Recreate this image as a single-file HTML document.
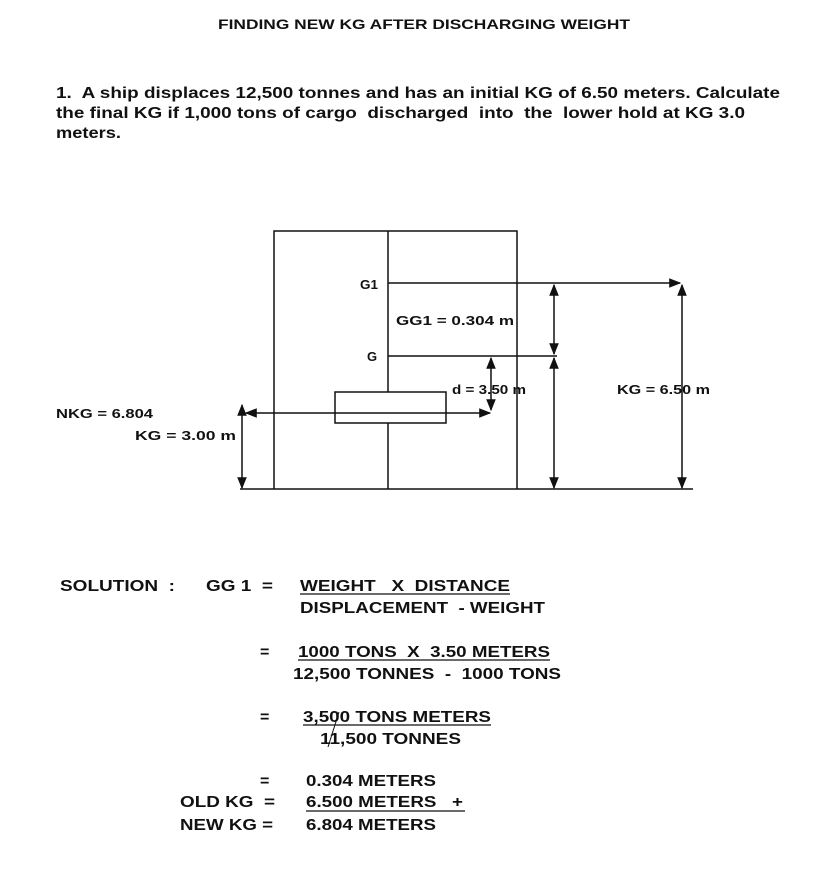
<!DOCTYPE html>
<html><head><style>body{margin:0;background:#fff}svg{display:block}text{font-family:"Liberation Sans",sans-serif;fill:#111;white-space:pre}</style></head><body>
<svg width="837" height="871" viewBox="0 0 837 871" xmlns="http://www.w3.org/2000/svg" xml:space="preserve">
<defs><marker id="a" viewBox="0 0 10 10" refX="9" refY="5" markerWidth="8" markerHeight="8" orient="auto-start-reverse"><path d="M0,1 L10,5 L0,9 z" fill="#111"/></marker></defs>
<text x="218" y="29" font-size="14" font-weight="bold" textLength="412" lengthAdjust="spacingAndGlyphs">FINDING NEW KG AFTER DISCHARGING WEIGHT</text>
<g font-size="16" font-weight="bold">
<text x="56" y="98" textLength="724" lengthAdjust="spacingAndGlyphs">1.  A ship displaces 12,500 tonnes and has an initial KG of 6.50 meters. Calculate</text>
<text x="56" y="118" textLength="689" lengthAdjust="spacingAndGlyphs">the final KG if 1,000 tons of cargo  discharged  into  the  lower hold at KG 3.0</text>
<text x="56" y="138" textLength="65" lengthAdjust="spacingAndGlyphs">meters.</text>
</g>
<g stroke="#111" stroke-width="1.5" fill="none">
<path d="M274,489 V231 H517 V489"/>
<path d="M388,231 V392 M388,423 V489"/>
<path d="M240,489 H693"/>
<rect x="335" y="392" width="111" height="31"/>
<path d="M388,283 H680" marker-end="url(#a)"/>
<path d="M388,356 H557"/>
<path d="M554,285 V354" marker-start="url(#a)" marker-end="url(#a)"/>
<path d="M554,358 V488" marker-start="url(#a)" marker-end="url(#a)"/>
<path d="M682,285 V488" marker-start="url(#a)" marker-end="url(#a)"/>
<path d="M491,358 V410" marker-start="url(#a)" marker-end="url(#a)"/>
<path d="M246,413 H490" marker-start="url(#a)" marker-end="url(#a)"/>
<path d="M242,405 V488" marker-start="url(#a)" marker-end="url(#a)"/>
</g>
<g font-size="13" font-weight="bold">
<text x="360" y="289" textLength="18" lengthAdjust="spacingAndGlyphs">G1</text>
<text x="367" y="361">G</text>
<text x="396" y="325" textLength="118" lengthAdjust="spacingAndGlyphs">GG1 = 0.304 m</text>
<text x="452" y="394" textLength="74" lengthAdjust="spacingAndGlyphs">d = 3.50 m</text>
<text x="617" y="394" textLength="93" lengthAdjust="spacingAndGlyphs">KG = 6.50 m</text>
<text x="56" y="418" textLength="97" lengthAdjust="spacingAndGlyphs">NKG = 6.804</text>
<text x="135" y="440" textLength="101" lengthAdjust="spacingAndGlyphs">KG = 3.00 m</text>
</g>
<g font-size="16" font-weight="bold">
<text x="60" y="591" textLength="115" lengthAdjust="spacingAndGlyphs">SOLUTION  :</text>
<text x="206" y="591" textLength="67" lengthAdjust="spacingAndGlyphs">GG 1  =</text>
<text x="300" y="591" textLength="210" lengthAdjust="spacingAndGlyphs">WEIGHT   X  DISTANCE</text>
<line x1="300" y1="594" x2="510" y2="594" stroke="#111" stroke-width="1.3"/>
<text x="300" y="613" textLength="245" lengthAdjust="spacingAndGlyphs">DISPLACEMENT  - WEIGHT</text>
<text x="260" y="657">=</text>
<text x="298" y="657" textLength="252" lengthAdjust="spacingAndGlyphs">1000 TONS  X  3.50 METERS</text>
<line x1="298" y1="660" x2="550" y2="660" stroke="#111" stroke-width="1.3"/>
<text x="293" y="679" textLength="268" lengthAdjust="spacingAndGlyphs">12,500 TONNES  -  1000 TONS</text>
<text x="260" y="722">=</text>
<text x="303" y="722" textLength="188" lengthAdjust="spacingAndGlyphs">3,500 TONS METERS</text>
<line x1="303" y1="725" x2="491" y2="725" stroke="#111" stroke-width="1.3"/>
<text x="320" y="744" textLength="141" lengthAdjust="spacingAndGlyphs">11,500 TONNES</text>
<line x1="339" y1="712" x2="328" y2="747" stroke="#111" stroke-width="1"/>
<text x="260" y="786">=</text>
<text x="306" y="786" textLength="130" lengthAdjust="spacingAndGlyphs">0.304 METERS</text>
<text x="180" y="807" textLength="95" lengthAdjust="spacingAndGlyphs">OLD KG  =</text>
<text x="306" y="807" textLength="157" lengthAdjust="spacingAndGlyphs">6.500 METERS   +</text>
<line x1="306" y1="811" x2="465" y2="811" stroke="#111" stroke-width="1.3"/>
<text x="180" y="830" textLength="93" lengthAdjust="spacingAndGlyphs">NEW KG =</text>
<text x="306" y="830" textLength="130" lengthAdjust="spacingAndGlyphs">6.804 METERS</text>
</g>
</svg>
</body></html>
